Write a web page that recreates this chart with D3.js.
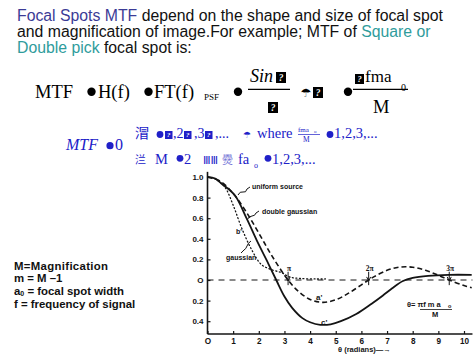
<!DOCTYPE html>
<html><head><meta charset="utf-8">
<script src="https://cdn.jsdelivr.net/npm/d3@7"></script>
<style>body{margin:0;background:#fff}</style>
</head><body>
<svg id="c" width="474" height="355"></svg>
<script>
// ---- data ----
const thetaUniform = [0,0.5,1,1.5,2,2.5,3,3.14,3.5,4,4.5,5,5.5,6,6.28,6.5,7,7.5,8,8.5,9,9.42,10,10.3];
const valuesUniform = [1,0.959,0.841,0.665,0.455,0.239,0.047,0,-0.1,-0.189,-0.217,-0.192,-0.128,-0.047,0,0.033,0.094,0.125,0.124,0.094,0.046,0,-0.054,-0.075];
const thetaDouble = [0,0.3,0.55,1.07,1.53,1.92,2.31,2.68,3.0,3.3,3.7,4.0,4.4,4.8,5.2,5.8,6.4,6.84,7.2,7.62,8.0,8.6,9.4,10.3];
const valuesDouble = [1,0.985,0.935,0.82,0.595,0.385,0.19,0,-0.16,-0.27,-0.37,-0.41,-0.435,-0.43,-0.4,-0.33,-0.23,-0.15,-0.08,-0.01,0.02,0.04,0.05,0.05];
const thetaGauss = [0,0.3,0.68,1.01,1.34,1.73,2.1,2.5,2.9,3.2,3.6,4.25,4.6];
const valuesGauss = [1,0.98,0.90,0.72,0.50,0.29,0.15,0.10,0.07,0.03,0.015,0.01,0.01];
const yTickValues = [1.0,0.8,0.6,0.4,0.2,0,-0.2,-0.4];
const yTickLabels = ["1.0","0.8","0.6","0.4","0.2","O","0.2","0.4"];
const xTickValues = [0,1,2,3,4,5,6,7,8,9,10];
const xTickLabels = ["O","1","2","3","4","5","6","7","8","9","10"];
const piMarks = [3.1416, 6.2832, 9.4248];
const piLabels = ["π","2π","3π"];
const notes = ["M=Magnification","m = M –1","a0 = focal spot width","f = frequency of signal"];

const svg = d3.select("#c");
const BLUE = "#2020c8", TITLEBLUE = "#3b3b96", TEAL = "#2f9c9c";

// ---- title text ----
const t1 = svg.append("text").attr("x",17).attr("y",21).attr("font-family","Liberation Sans, Arial").attr("font-size",15.8).attr("fill","#111");
t1.append("tspan").attr("fill",TITLEBLUE).text("Focal Spots MTF");
t1.append("tspan").text(" depend on the shape and size of focal spot");
const t2 = svg.append("text").attr("x",17).attr("y",37.3).attr("font-family","Liberation Sans, Arial").attr("font-size",15.8).attr("fill","#111");
t2.append("tspan").text("and magnification of image.For example; MTF of ");
t2.append("tspan").attr("fill",TEAL).text("Square or");
const t3 = svg.append("text").attr("x",17).attr("y",53.3).attr("font-family","Liberation Sans, Arial").attr("font-size",15.8).attr("fill","#111");
t3.append("tspan").attr("fill",TEAL).text("Double pick");
t3.append("tspan").text(" focal spot is:");

// helpers
function txt(x,y,s,opt={}){
  return svg.append("text").attr("x",x).attr("y",y).text(s)
    .attr("font-family",opt.ff||"Liberation Serif, Times New Roman")
    .attr("font-size",opt.fs||18).attr("fill",opt.fill||"#000")
    .attr("font-style",opt.it?"italic":"normal")
    .attr("font-weight",opt.bold?"bold":"normal")
    .attr("text-anchor",opt.anchor||"start");
}
function dot(x,y,r,fill){ svg.append("circle").attr("cx",x).attr("cy",y).attr("r",r).attr("fill",fill); }
function qbox(x,y,w,h,fill){
  svg.append("rect").attr("x",x).attr("y",y).attr("width",w).attr("height",h).attr("fill",fill);
  svg.append("text").attr("x",x+w/2).attr("y",y+h*0.8).attr("text-anchor","middle")
    .attr("font-family","Liberation Serif").attr("font-style","italic").attr("font-weight","bold")
    .attr("font-size",h*0.85).attr("fill","#fff").text("?");
}
function hline(x1,x2,y,stroke,w){ svg.append("line").attr("x1",x1).attr("x2",x2).attr("y1",y).attr("y2",y).attr("stroke",stroke).attr("stroke-width",w||1); }

// ---- formula row (black) ----
txt(35,98,"MTF",{fs:18.5});
dot(91.5,91.7,4.2,"#000");
txt(98,98,"H(f)",{fs:18.5});
dot(148.5,91.7,4.2,"#000");
txt(154,98,"FT(f)",{fs:18.5});
txt(204,99.6,"PSF",{fs:9});
dot(238,91.7,4.2,"#000");
txt(250,81.7,"Sin",{fs:18,it:true});
qbox(276,72,10,11,"#000");
hline(248,290,89.3,"#000",1.2);
qbox(268,102,10,11,"#000");
txt(306,97,"☂",{fs:12,ff:"DejaVu Sans",anchor:"middle"});
qbox(313,87,10,11,"#000");
dot(348,91.7,4.2,"#000");
qbox(355,74,9,10,"#000");
txt(365,81.7,"fma",{fs:17});
txt(401,91,"0",{fs:10});
hline(353,408,89.3,"#000",1.2);
txt(373,112.7,"M",{fs:18.5});

// ---- blue conditions ----
txt(66,150,"MTF",{fs:16,it:true,fill:BLUE});
dot(110,145.7,3.6,BLUE);
txt(115,150,"0",{fs:16,fill:BLUE});
txt(135,138,"㴘",{fs:14,fill:BLUE,ff:"Noto Sans CJK SC"});
dot(160,134.5,3.4,BLUE);
qbox(165,131,7.5,8,BLUE);
txt(173,138,",2",{fs:14,fill:BLUE});
qbox(184,131,7.5,8,BLUE);
txt(194,138,",3",{fs:14,fill:BLUE});
qbox(205,131,7.5,8,BLUE);
txt(215,138,",...",{fs:14,fill:BLUE});
txt(247,138,"☂",{fs:9,ff:"DejaVu Sans",anchor:"middle",fill:BLUE});
txt(257,138,"where",{fs:14.5,fill:BLUE});
txt(298,131.5,"fma",{fs:7,fill:BLUE});
txt(314,133,"o",{fs:5,fill:BLUE});
hline(298,320,134.5,BLUE,0.7);
txt(303,142,"M",{fs:7.5,fill:BLUE});
dot(330,134.5,3.4,BLUE);
txt(334,138,"1,2,3,...",{fs:14.5,fill:BLUE});

txt(135,164.3,"㳕",{fs:11,fill:BLUE,ff:"Noto Sans CJK SC"});
txt(155,164.3,"M",{fs:14.5,fill:BLUE});
dot(180,158.3,3.4,BLUE);
txt(184,164.3,"2",{fs:14.5,fill:BLUE});
txt(203,164.3,"ⅢⅢ",{fs:11,fill:BLUE,ff:"DejaVu Sans"});
txt(222,164.3,"㸑",{fs:11,fill:"#7a7ad8",ff:"Noto Sans CJK SC"});
txt(238,164.3,"fa",{fs:14.5,fill:BLUE});
txt(254,168,"o",{fs:8,fill:BLUE});
dot(268,158.3,3.4,BLUE);
txt(272,164.3,"1,2,3,...",{fs:14.5,fill:BLUE});

// ---- notes bottom left ----
notes.forEach((s,i)=>{
  const t = svg.append("text").attr("x",14).attr("y",269.5+i*12.8)
    .attr("font-family","Liberation Sans, Arial").attr("font-weight","bold").attr("font-size",11.4).attr("fill","#111")
    .attr("textLength", i===0?94:null);
  if(s.startsWith("a0")){
    t.append("tspan").text("a");
    t.append("tspan").attr("font-size",7).attr("dy",1).text("0");
    t.append("tspan").attr("dy",-1).text(" = focal spot width");
  } else t.text(s);
});

// ---- chart ----
const x = d3.scaleLinear().domain([0,10]).range([207.5,464]);
const y = d3.scaleLinear().domain([0,1]).range([280,177]);
const INK = "#141414";
const chartFont = "Liberation Sans, Arial";

// axes lines
svg.append("line").attr("x1",x(0)).attr("x2",x(0)).attr("y1",y(-0.524)).attr("y2",y(1.05)).attr("stroke",INK).attr("stroke-width",1.6);
svg.append("line").attr("x1",x(0)).attr("x2",x(10.33)).attr("y1",y(-0.524)).attr("y2",y(-0.524)).attr("stroke",INK).attr("stroke-width",1.6);

const yAxis = d3.axisLeft(y).tickValues(yTickValues).tickFormat((d,i)=>yTickLabels[i]).tickSizeInner(-3).tickSizeOuter(0).tickPadding(4);
const gy = svg.append("g").attr("transform",`translate(${x(0)},0)`).call(yAxis);
gy.select(".domain").remove();
gy.selectAll("line").attr("stroke",INK).attr("stroke-width",1.2);
gy.selectAll("text").attr("font-family",chartFont).attr("font-weight","bold").attr("font-size",8).attr("fill",INK);

const xAxis = d3.axisBottom(x).tickValues(xTickValues).tickFormat((d,i)=>xTickLabels[i]).tickSizeInner(-3).tickSizeOuter(0).tickPadding(4);
const gx = svg.append("g").attr("transform",`translate(0,${y(-0.524)})`).call(xAxis);
gx.select(".domain").remove();
gx.selectAll("line").attr("stroke",INK).attr("stroke-width",1.2);
gx.selectAll("text").attr("font-family",chartFont).attr("font-weight","bold").attr("font-size",8.2).attr("fill",INK);

svg.append("text").attr("x",338).attr("y",352).attr("font-family",chartFont).attr("font-weight","bold").attr("font-size",7.5).attr("fill",INK).text("θ (radians)—→");

// zero dashed line
svg.append("line").attr("x1",x(0)).attr("x2",x(10.33)).attr("y1",y(0)).attr("y2",y(0)).attr("stroke",INK).attr("stroke-width",1).attr("stroke-dasharray","6,5");

const line = d3.line().x(d=>x(d[0])).y(d=>y(d[1])).curve(d3.curveCatmullRom);
svg.append("path").datum(d3.zip(thetaUniform,valuesUniform)).attr("d",line).attr("fill","none").attr("stroke",INK).attr("stroke-width",1.6).attr("stroke-dasharray","5,3");
svg.append("path").datum(d3.zip(thetaDouble,valuesDouble)).attr("d",line).attr("fill","none").attr("stroke",INK).attr("stroke-width",1.8);
svg.append("path").datum(d3.zip(thetaGauss,valuesGauss)).attr("d",line).attr("fill","none").attr("stroke",INK).attr("stroke-width",1.3).attr("stroke-dasharray","1,2.6").attr("stroke-linecap","round");

// pi markers
piMarks.forEach((p,i)=>{
  svg.append("line").attr("x1",x(p)).attr("x2",x(p)).attr("y1",y(0.08)).attr("y2",y(-0.05)).attr("stroke",INK).attr("stroke-width",1);
  svg.append("path").attr("d",`M${x(p)-2},${y(0.03)} L${x(p)},${y(-0.01)} L${x(p)+2},${y(0.03)}`).attr("fill","none").attr("stroke",INK).attr("stroke-width",1);
  svg.append("text").attr("x",x(p)+1).attr("y",y(0.09)).attr("text-anchor","middle").attr("font-family","Liberation Serif").attr("font-weight","bold").attr("font-size",7.5).attr("fill",INK).text(piLabels[i]);
});

// annotations
const ann = (xx,yy,s,fs)=>svg.append("text").attr("x",xx).attr("y",yy).attr("font-family",chartFont).attr("font-weight","bold").attr("font-size",fs||7).attr("fill",INK).text(s);
ann(252,189,"uniform source");
ann(262,213.5,"double gaussian");
ann(226,260,"gaussian");
ann(236,234,"b'",7);
ann(316,300,"a'",8);
ann(321,325,"c'",8);
const lead = d => svg.append("path").attr("d",d).attr("fill","none").attr("stroke",INK).attr("stroke-width",1);
lead("M238,195 q2,-4 5,-3 q3,1 4,-3 l3,-2");
lead("M247,220 q2,-4 5,-4 q3,0 4,-3 l3,-2");
lead("M251,241 q-3,2 -4,5 q-1,3 -3,4 l-3,3");
// theta formula
svg.append("text").attr("x",407).attr("y",306.5).attr("font-family",chartFont).attr("font-weight","bold").attr("font-size",7.5).attr("fill",INK).text("θ= πf m a");
svg.append("text").attr("x",448).attr("y",308).attr("font-family",chartFont).attr("font-weight","bold").attr("font-size",5.5).attr("fill",INK).text("o");
hline(420,452,309.5,INK,0.8);
svg.append("text").attr("x",432).attr("y",316.5).attr("font-family",chartFont).attr("font-weight","bold").attr("font-size",7.5).attr("fill",INK).text("M");
</script>
</body></html>
